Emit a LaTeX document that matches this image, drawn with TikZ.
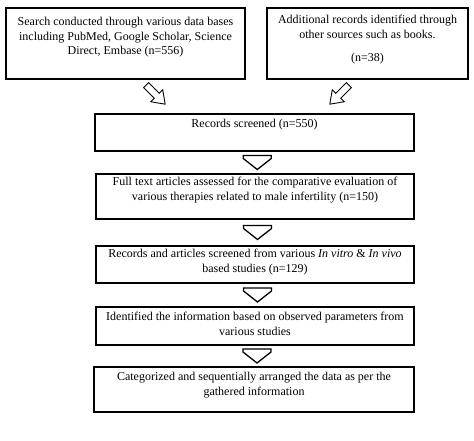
\documentclass[tikz,border=0pt]{standalone}
\usepackage{fontspec}
\setmainfont{Liberation Serif}
\usetikzlibrary{calc}
\begin{document}
\begin{tikzpicture}[x=1pt,y=-1pt,
  box/.style={draw=black,line width=1.8pt,inner sep=0pt},
  txt/.style={anchor=north,align=center,inner sep=0pt,font=\fontsize{12}{14.5}\selectfont},
  blk/.style={draw=black,line width=0.9pt,fill=white,line join=miter}]
\useasboundingbox (0,0) rectangle (474,440);
% boxes
\node[box,minimum width=239pt,minimum height=71pt] (b1) at (125.5,43.5) {};
\node[box,minimum width=201pt,minimum height=71pt] (r1) at (367.5,43.5) {};
\node[box,minimum width=319pt,minimum height=37pt] (b2) at (254.5,132.5) {};
\node[box,minimum width=318pt,minimum height=45pt] (b3) at (255,196.5) {};
\node[box,minimum width=318pt,minimum height=37pt] (b4) at (255,264.5) {};
\node[box,minimum width=318pt,minimum height=38pt] (b5) at (255,326) {};
\node[box,minimum width=320pt,minimum height=45pt] (b6) at (254,389.5) {};
% texts
\node[txt] (t1) at ($(b1.north)+(0,10)$) {Search conducted through various data bases\\including PubMed, Google Scholar, Science\\Direct, Embase (n=556)};
\node[txt] (t2) at ($(r1.north)+(0,8)$) {Additional records identified through\\other sources such as books.\\[9pt](n=38)};
\node[txt] (t3) at ($(b2.north)+(0,6)$) {Records screened (n=550)};
\node[txt] (t4) at ($(b3.north)+(0,4)$) {Full text articles assessed for the comparative evaluation of\\various therapies related to male infertility (n=150)};
\node[txt] (t5) at ($(b4.north)+(0,4)$) {Records and articles screened from various \textit{In vitro} \& \textit{In vivo}\\based studies (n=129)};
\node[txt] (t6) at ($(b5.north)+(0,6)$) {Identified the information based on observed parameters from\\various studies};
\node[txt] (t7) at ($(b6.north)+(0,6)$) {Categorized and sequentially arranged the data as per the\\gathered information};
% diagonal block arrows
\begin{scope}[shift={(156,95)},rotate=-45]
  \draw[blk] (-14,-3.5) -- (1,-3.5) -- (1,-8.5) -- (13,0) -- (1,8.5) -- (1,3.5) -- (-14,3.5) -- cycle;
\end{scope}
\begin{scope}[shift={(339,95)},rotate=-135]
  \draw[blk] (-14,-3.5) -- (1,-3.5) -- (1,-8.5) -- (13,0) -- (1,8.5) -- (1,3.5) -- (-14,3.5) -- cycle;
\end{scope}
% down triangles
\foreach \a/\b in {b2/b3,b3/b4,b4/b5,b5/b6}{
  \coordinate (m) at ($(\a.south)!0.5!(\b.north)+(2.5,0)$);
  \draw[blk,line width=1.3pt] ($(m)+(-14,-7)$) -- ($(m)+(14,-7)$) -- ($(m)+(14,-4)$) -- ($(m)+(0,7)$) -- ($(m)+(-14,-4)$) -- cycle;
}
\end{tikzpicture}
\end{document}
